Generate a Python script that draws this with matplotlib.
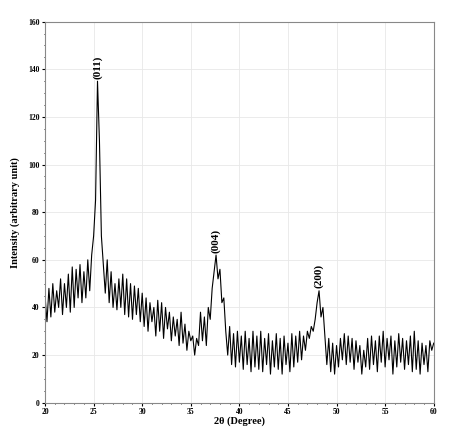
import numpy as np
import matplotlib.pyplot as plt

plt.rcParams['font.family'] = 'Liberation Serif'

# intensity every 0.2 degree, 20 -> 60
intensity = [
    45, 34, 48, 36, 50, 38, 47, 40, 52, 37,
    50, 40, 54, 38, 57, 40, 56, 44, 58, 42,
    55, 44, 60, 47, 62, 70, 85, 135, 110, 70,
    58, 46, 60, 42, 55, 40, 50, 39, 52, 40,
    54, 37, 52, 36, 50, 35, 49, 37, 48, 34,
    46, 32, 44, 30, 42, 34, 40, 28, 43, 30,
    42, 27, 40, 31, 38, 26, 36, 28, 35, 24,
    38, 25, 33, 22, 30, 26, 28, 20, 27, 24,
    38, 26, 36, 24, 40, 35, 48, 55, 62, 52,
    56, 42, 44, 30, 20, 32, 16, 29, 15, 30,
    17, 28, 14, 30, 16, 27, 13, 30, 15, 28,
    14, 30, 13, 27, 16, 29, 12, 26, 15, 29,
    14, 27, 12, 28, 16, 25, 13, 29, 15, 28,
    17, 30, 18, 28, 22, 30, 27, 32, 30, 35,
    42, 47, 36, 40, 28, 16, 27, 13, 25, 12,
    24, 15, 27, 18, 29, 16, 28, 17, 27, 14,
    26, 17, 24, 12, 22, 15, 27, 14, 28, 16,
    26, 13, 28, 17, 30, 15, 27, 18, 28, 12,
    26, 15, 29, 17, 27, 14, 26, 16, 28, 13,
    30, 14, 26, 12, 25, 16, 24, 13, 26, 22, 25,
]
two_theta = np.linspace(20, 60, len(intensity))

peak_labels = ['(011)', '(004)', '(200)']
peak_x = [25.4, 37.6, 48.2]
peak_y = [136, 63, 48]

fig = plt.figure(figsize=(4.74, 4.33), dpi=100)
ax = fig.add_axes([0.095, 0.07, 0.82, 0.88])

ax.plot(two_theta, intensity, color='black', linewidth=0.8)

for lab, x, y in zip(peak_labels, peak_x, peak_y):
    ax.text(x, y, lab, rotation=90, ha='center', va='bottom',
            fontsize=8, fontweight='bold')

ax.set_xlim(20, 60)
ax.set_ylim(0, 160)
ax.set_xticks(np.arange(20, 61, 5))
ax.set_yticks(np.arange(0, 161, 20))
ax.minorticks_on()
ax.grid(True, color='#e8e8e8', linewidth=0.6)
ax.tick_params(labelsize=5.5, length=2, pad=2)
ax.tick_params(which='minor', length=1)
for t in ax.get_xticklabels() + ax.get_yticklabels():
    t.set_fontweight('bold')
for s in ax.spines.values():
    s.set_color('#888888')

ax.set_xlabel('2θ (Degree)', fontsize=7.5, fontweight='bold', labelpad=0)
ax.set_ylabel('Intensity (arbitrary unit)', fontsize=7.5, fontweight='bold', labelpad=6)

fig.savefig('out.png', dpi=100)
